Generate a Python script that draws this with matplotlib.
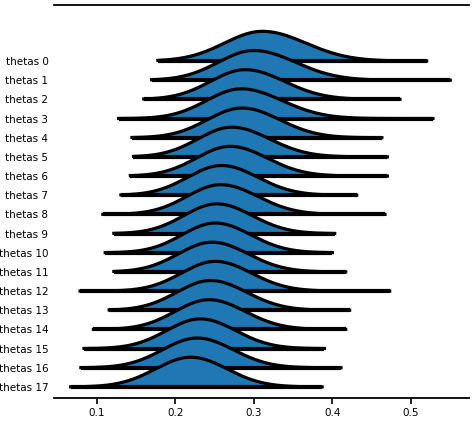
import numpy as np
import matplotlib
matplotlib.use("Agg")
import matplotlib.pyplot as plt

labels = [f"thetas {i}" for i in range(18)]
mins  = [0.178,0.170,0.160,0.128,0.145,0.147,0.143,0.131,0.108,0.122,0.111,0.122,0.079,0.116,0.096,0.084,0.080,0.067]
modes = [0.311,0.300,0.289,0.284,0.285,0.272,0.270,0.259,0.258,0.253,0.251,0.247,0.251,0.245,0.243,0.232,0.228,0.220]
maxs  = [0.520,0.550,0.486,0.528,0.463,0.470,0.470,0.431,0.467,0.403,0.400,0.417,0.473,0.422,0.417,0.390,0.411,0.387]
sd_left  = [0.048,0.045,0.044,0.044,0.044,0.043,0.043,0.043,0.043,0.042,0.042,0.043,0.043,0.043,0.043,0.043,0.044,0.045]
sd_right = [0.055,0.053,0.050,0.052,0.048,0.048,0.047,0.046,0.047,0.045,0.045,0.046,0.046,0.046,0.046,0.045,0.046,0.046]

fig = plt.figure(figsize=(4.74, 4.21), dpi=100)
ax = fig.add_axes([0.114, 0.055, 0.875, 0.933])
height = 1.55
for i in range(len(labels)):
    y0 = -i
    x = np.linspace(mins[i], maxs[i], 300)
    sd = np.where(x < modes[i], sd_left[i], sd_right[i])
    d = np.exp(-0.5 * ((x - modes[i]) / sd) ** 2) * height
    z = 2 + i * 3
    ax.fill_between(x, y0, y0 + d, color="#1f77b4", zorder=z)
    ax.plot(x, y0 + d, color="black", lw=2.3, zorder=z + 1)
    ax.plot([mins[i], maxs[i]], [y0, y0], color="black", lw=3, zorder=z + 1, solid_capstyle="butt")

ax.set_yticks([-i for i in range(len(labels))])
ax.set_yticklabels(labels, fontsize=7.5)
ax.tick_params(axis="y", length=0, pad=4)
ax.set_xticks([0.1, 0.2, 0.3, 0.4, 0.5])
ax.tick_params(axis="x", labelsize=7.5, width=1.2, length=4)
ax.set_xlim(0.0459, 0.5736)
ax.set_ylim(-17.57, 2.92)
for s in ["left", "right"]:
    ax.spines[s].set_visible(False)
for s in ["top", "bottom"]:
    ax.spines[s].set_linewidth(1.3)
fig.savefig("out.png", dpi=100)
